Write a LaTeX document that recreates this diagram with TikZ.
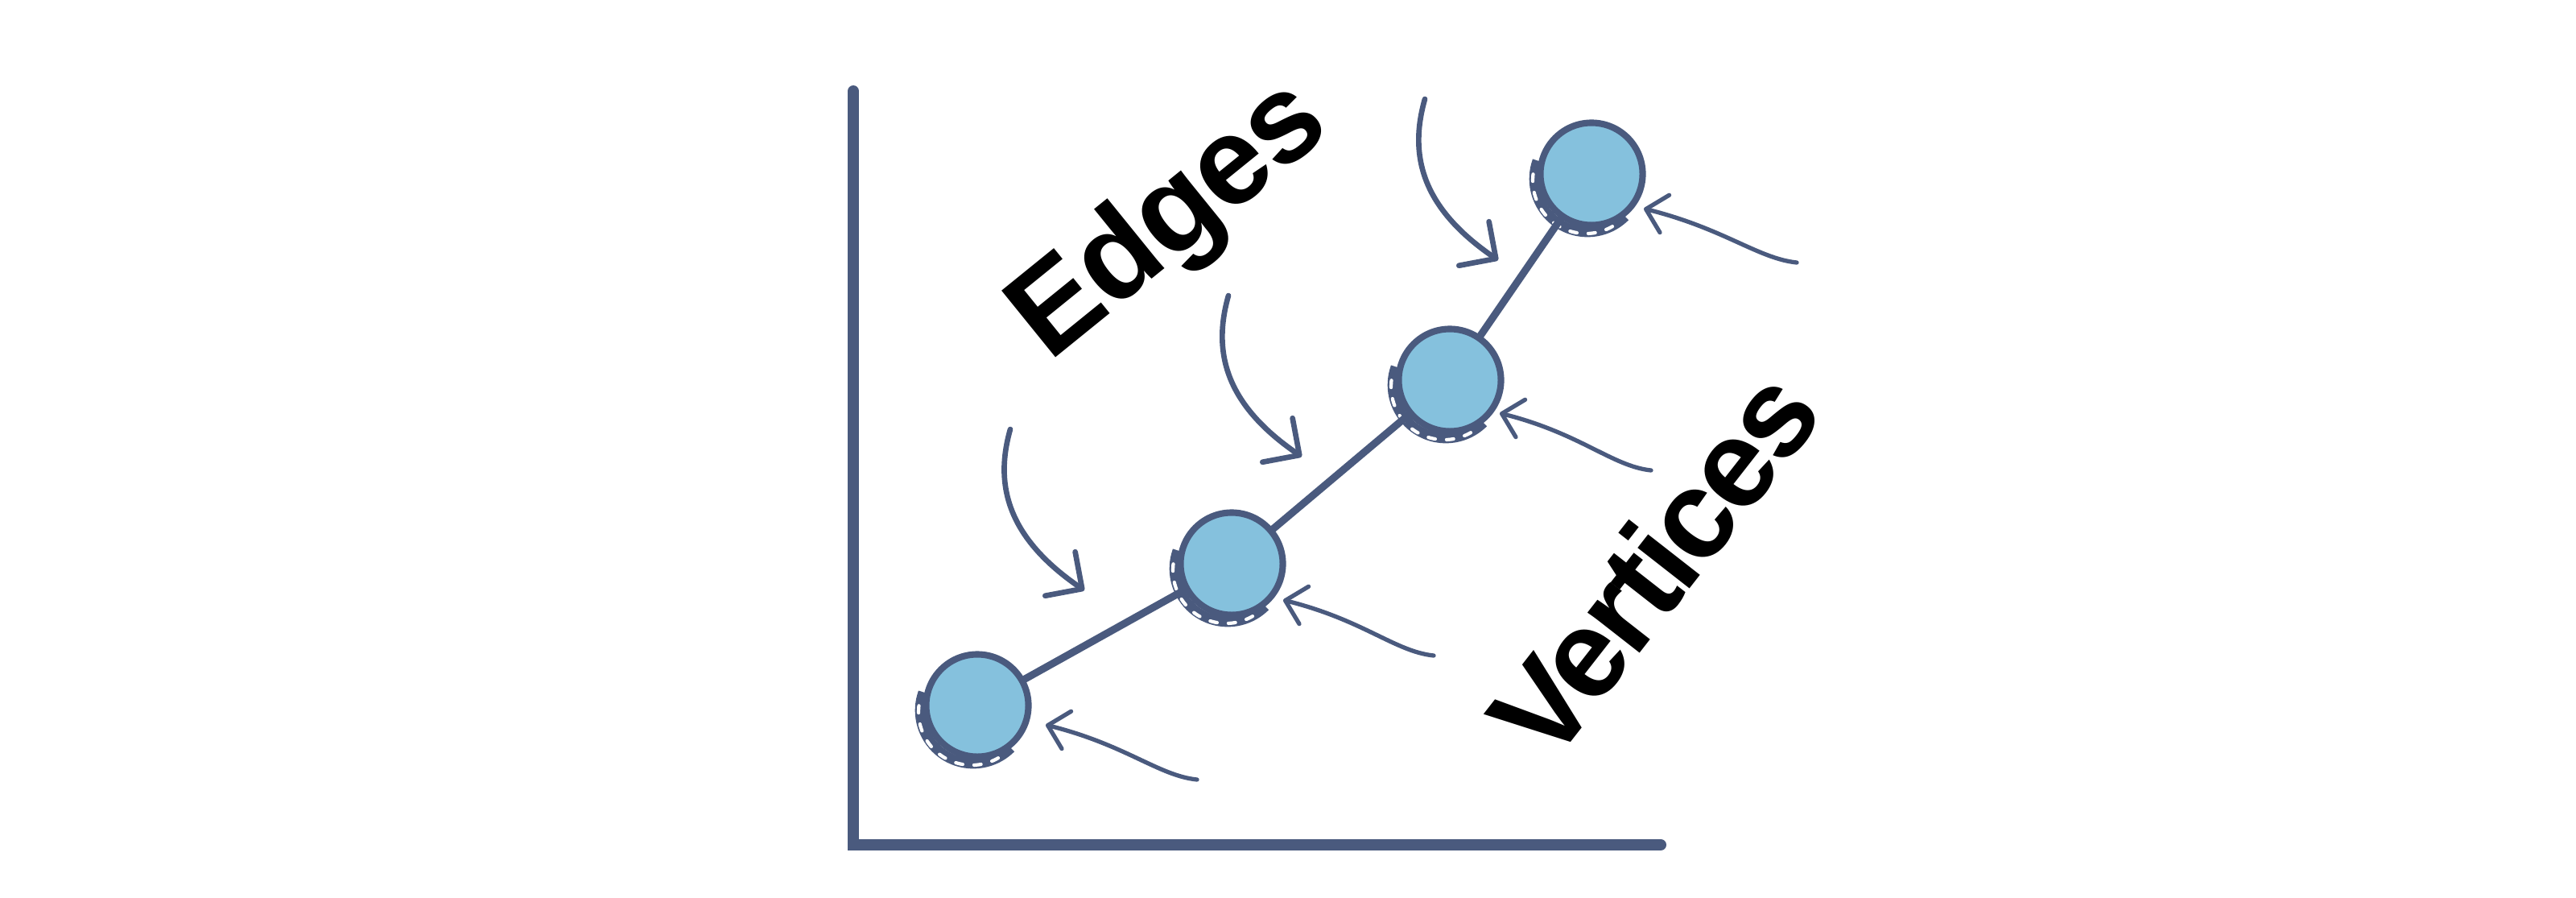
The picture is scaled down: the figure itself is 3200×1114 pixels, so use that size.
\documentclass[tikz,border=0pt]{standalone}
\usepackage{fontspec}
\setmainfont{Liberation Sans}
\usetikzlibrary{arrows.meta,calc}
\definecolor{ink}{HTML}{4A5A7E}
\definecolor{bub}{HTML}{85C1DD}
\begin{document}
\begin{tikzpicture}[x=0.01cm,y=-0.01cm,
  vert/.style={circle,draw=ink,fill=bub,line width=2.3pt,minimum size=1.27cm,inner sep=0pt},
  link/.style={draw=ink,line width=2.6pt,line cap=round},
  eptr/.style={draw=ink,line width=1.9pt,line cap=round,-{Straight Barb[length=9.4pt,width=18.8pt,round]}},
  vptr/.style={draw=ink,line width=1.5pt,line cap=round,-{Straight Barb[length=6.8pt,width=13.6pt,round]}},
  ring/.style={draw=ink,line width=3.6pt},
  ringgap/.style={draw=white,line width=1.2pt,dash pattern=on 2.5pt off 4pt,line cap=round},
  axisline/.style={draw=ink,line width=0.14cm,line cap=round,line join=miter},
  lbl/.style={font=\fontsize{44}{52}\selectfont\bfseries,anchor=base west,inner sep=0pt,outer sep=0pt,text=black}
]
\useasboundingbox (0,0) rectangle (3200,1114);

% axes
\coordinate (ytop) at (1060,113);
\coordinate (orig) at (1060,1049);
\coordinate (xend) at (2063,1049);
\draw[axisline] (ytop) -- (orig) -- (xend);

% vertex positions
\coordinate (c1) at (1214,876);
\coordinate (c2) at (1530,700);
\coordinate (c3) at (1801,472);
\coordinate (c4) at (1977,216);

% sketchy second rim (behind the vertices)
\foreach \c in {c1,c2,c3,c4}{
  \draw[ring] ($(\c)+(-5,6)$) ++(45:66) arc[start angle=45,end angle=200,radius=66];
  \draw[ringgap] ($(\c)+(-7,8)$) ++(60:66) arc[start angle=60,end angle=190,radius=66];
}

% vertices
\node[vert] (n1) at (c1) {};
\node[vert] (n2) at (c2) {};
\node[vert] (n3) at (c3) {};
\node[vert] (n4) at (c4) {};

% edges
\draw[link] (n1) -- (n2);
\draw[link] (n2) -- (n3);
\draw[link] (n3) -- (n4);

% pointers to edges
\coordinate (e1s) at (1255,533); \coordinate (e1h) at (1347,733);
\coordinate (e2s) at (1526,367); \coordinate (e2h) at (1617,567);
\coordinate (e3s) at (1770,123); \coordinate (e3h) at (1861,323);
\foreach \i in {1,2,3}{
  \draw[eptr] (e\i s) .. controls +(-20,70) and +(-95,-65) .. (e\i h);
}

% pointers to vertices
\coordinate (v1s) at (1487,968); \coordinate (v1h) at (1299,900);
\coordinate (v2s) at (1781,814); \coordinate (v2h) at (1594,745);
\coordinate (v3s) at (2051,584); \coordinate (v3h) at (1863,513);
\coordinate (v4s) at (2232,326); \coordinate (v4h) at (2042,259);
\foreach \i in {1,2,3,4}{
  \draw[vptr] (v\i s) .. controls +(-48,-5) and +(100,25) .. (v\i h);
}

% labels
\node[lbl,rotate=39] (edgeslbl) at (1303,450) {\addfontfeatures{LetterSpace=-1.5}Edges};
\node[lbl,rotate=52] (vertlbl) at (1926,953) {\addfontfeatures{LetterSpace=-3.5}Vertices};
\end{tikzpicture}
\end{document}
